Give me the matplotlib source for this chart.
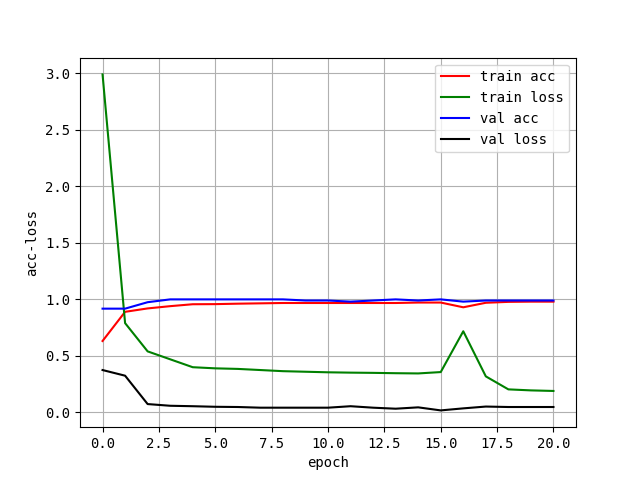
import matplotlib
matplotlib.use('Agg')
import matplotlib.pyplot as plt

# reference uses a CJK font with half-width monospaced latin glyphs
plt.rcParams['font.family'] = ['DejaVu Sans Mono', 'Noto Sans CJK SC']
plt.rcParams['axes.unicode_minus'] = False

epochs = list(range(21))
train_acc = [0.632, 0.89, 0.92, 0.94, 0.957, 0.958, 0.962, 0.965, 0.968, 0.968, 0.968, 0.968,
             0.968, 0.968, 0.972, 0.972, 0.93, 0.97, 0.978, 0.98, 0.98]
train_loss = [2.99, 0.79, 0.54, 0.47, 0.40, 0.39, 0.385, 0.375, 0.365, 0.36, 0.355, 0.352,
              0.35, 0.347, 0.345, 0.357, 0.718, 0.319, 0.204, 0.195, 0.19]
val_acc = [0.918, 0.918, 0.975, 1.0, 1.0, 1.0, 1.0, 1.0, 1.0, 0.99, 0.99, 0.98,
           0.99, 1.0, 0.99, 1.0, 0.98, 0.99, 0.99, 0.99, 0.99]
val_loss = [0.375, 0.325, 0.074, 0.059, 0.055, 0.05, 0.048, 0.042, 0.042, 0.042, 0.042, 0.055,
            0.042, 0.033, 0.045, 0.018, 0.036, 0.052, 0.048, 0.048, 0.048]

plt.figure(figsize=(6.4, 4.8), dpi=100)
plt.plot(epochs, train_acc, 'r', label='train acc')
plt.plot(epochs, train_loss, 'g', label='train loss')
plt.plot(epochs, val_acc, 'b', label='val acc')
plt.plot(epochs, val_loss, 'k', label='val loss')
plt.grid(True)
plt.xlabel('epoch')
plt.ylabel('acc-loss')
plt.legend(loc='upper right')
plt.savefig('out.png')
